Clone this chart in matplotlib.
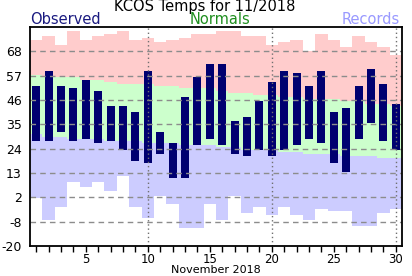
import matplotlib
matplotlib.use('Agg')
import matplotlib.pyplot as plt
import numpy as np

days = list(range(1, 31))
obs_high = [53, 60, 53, 52, 56, 51, 44, 44, 41, 60, 32, 27, 48, 57, 63,
            63, 37, 39, 46, 55, 60, 59, 53, 60, 41, 43, 53, 61, 54, 45]
obs_low = [28, 28, 32, 28, 29, 27, 28, 24, 19, 18, 22, 11, 11, 26, 29,
           26, 22, 21, 24, 21, 24, 26, 29, 27, 18, 14, 29, 36, 28, 24]
normal_high = [58, 57, 57, 57, 56, 56, 55, 54, 54, 54, 53, 53, 52, 52, 52,
               51, 50, 50, 49, 49, 48, 48, 47, 47, 47, 46, 46, 45, 45, 44]
normal_low = [31, 30, 30, 29, 29, 29, 28, 28, 28, 27, 27, 27, 26, 26, 26,
              25, 25, 24, 24, 24, 23, 23, 22, 22, 22, 21, 21, 21, 20, 20]
record_high = [74, 76, 72, 78, 74, 76, 77, 78, 74, 75, 73, 74, 75, 77, 77,
               78, 78, 76, 76, 72, 73, 74, 69, 77, 74, 71, 76, 73, 71, 67]
record_low = [2, -8, -2, 9, 7, 9, 5, 12, -2, -7, 3, -1, -12, -12, -1,
              -8, 3, -5, -2, -6, -2, -6, -8, -3, -4, -4, -11, -11, -5, -3]
ytick_labels = ['-20', '-8', '2', '13', '24', '35', '46', '57', '68']

fig = plt.figure(figsize=(4.12, 2.76), dpi=100)
ax = fig.add_axes([30 / 412, 30 / 276, 372 / 412, 219 / 276])

# climate bands drawn as one step per day
edges = np.arange(0.5, 31.5, 1.0)
ax.stairs(record_high, edges, baseline=normal_high, fill=True, color='#ffcccc', zorder=1)
ax.stairs(normal_high, edges, baseline=normal_low, fill=True, color='#ccffcc', zorder=1)
ax.stairs(normal_low, edges, baseline=record_low, fill=True, color='#ccccff', zorder=1)

hi = np.array(obs_high)
lo = np.array(obs_low)
ax.bar(days, hi - lo, bottom=lo, width=0.64, color='#000070', zorder=2)

yt = np.linspace(-20, 80, 10)[:-1]
for y in yt[1:]:
    ax.axhline(y, color='#8c8c8c', lw=1, ls=(0, (4, 3)), zorder=3)
for d in [10, 20, 30]:
    ax.axvline(d, color='#707070', lw=1, ls=(0, (1, 2)), zorder=3)

ax.set_xlim(0.5, 30.5)
ax.set_ylim(-20, 80)
ax.set_yticks(yt)
ax.set_yticklabels(ytick_labels, fontsize=9)
ax.tick_params(axis='y', length=0, pad=6)
ax.set_xticks(range(5, 31, 5))
ax.set_xticks(days, minor=True)
ax.tick_params(axis='x', which='both', length=4, width=1, direction='out', labelsize=8.5, pad=1)
ax.set_xlabel('November 2018', fontsize=8, labelpad=-1)
for s in ax.spines.values():
    s.set_linewidth(1.3)
    s.set_zorder(4)

fig.text(0.497, (276 - 11) / 276, 'KCOS Temps for 11/2018', ha='center', va='baseline', fontsize=10.5)
fig.text(30 / 412, (276 - 24.5) / 276, 'Observed', ha='left', va='baseline', fontsize=10.5, color='#1a1a80')
fig.text(220 / 412, (276 - 24.5) / 276, 'Normals', ha='center', va='baseline', fontsize=10.5, color='#1f8f1f')
fig.text(400 / 412, (276 - 24.5) / 276, 'Records', ha='right', va='baseline', fontsize=10.5, color='#9999ff')

plt.savefig('out.png', dpi=100)
